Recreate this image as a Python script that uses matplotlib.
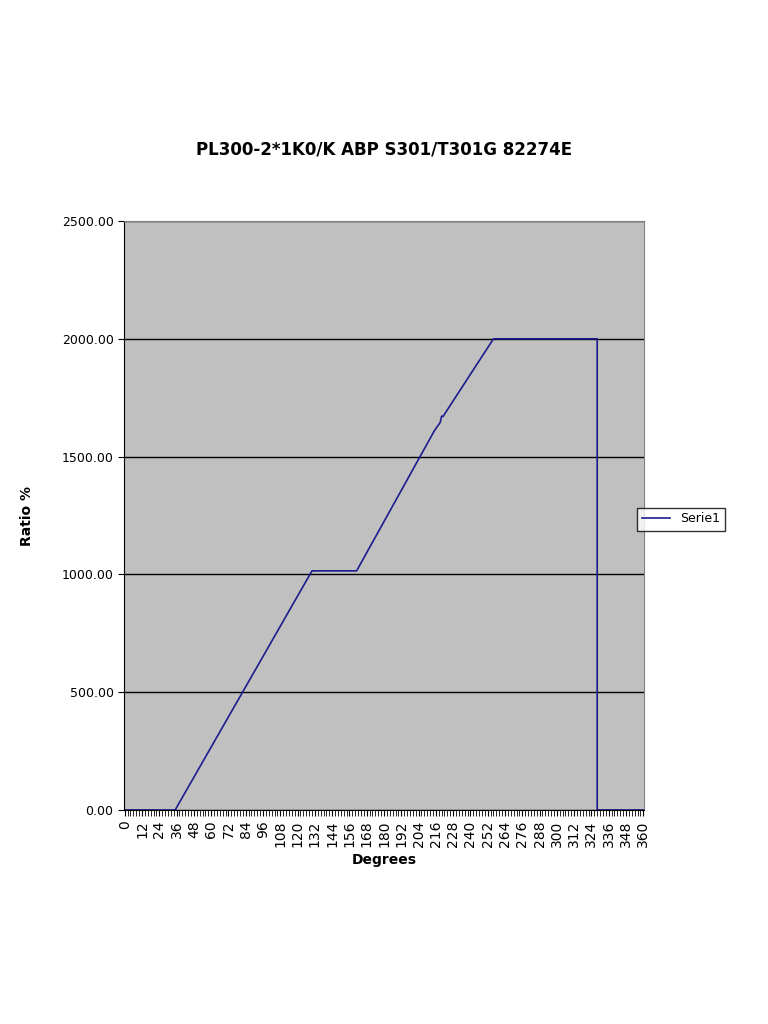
import matplotlib.pyplot as plt
import numpy as np

# breakpoints of Serie1 (degrees, ratio %)
degrees = [0, 35, 130, 161, 215, 219, 220, 221, 222, 256, 262, 328, 328, 360]
ratio = [0, 0, 1015, 1015, 1610, 1645, 1672, 1670, 1680, 2000, 2000, 2000, 0, 0]

y_ticks = [0, 500, 1000, 1500, 2000, 2500]
x_ticks = list(range(0, 361, 12))

fig = plt.figure(figsize=(7.68, 10.24), dpi=100)
ax = fig.add_axes([124 / 768, 1 - 810 / 1024, 520 / 768, 589 / 1024])
ax.set_facecolor('#c0c0c0')

ax.plot(degrees, ratio, color='#1c1c8c', linewidth=1.2, label='Serie1')

ax.set_xlim(-0.5, 360.5)
ax.set_ylim(0, 2500)
ax.set_yticks(y_ticks)
ax.set_yticklabels([f'{v:.2f}' for v in y_ticks], fontsize=9, family='Liberation Sans Narrow')
ax.set_xticks(x_ticks)
ax.set_xticklabels([str(v) for v in x_ticks], rotation=90, fontsize=10)
ax.set_xticks(range(0, 361, 2), minor=True)
ax.tick_params(axis='x', which='both', length=4, direction='out')
ax.tick_params(axis='y', length=4, direction='out')
ax.yaxis.grid(True, color='black', linewidth=1)
ax.set_axisbelow(True)
for s in ax.spines.values():
    s.set_color('#808080')
ax.spines['left'].set_color('black')
ax.spines['bottom'].set_color('black')

ax.set_xlabel('Degrees', fontsize=10, fontweight='bold', family='Liberation Sans Narrow')
ax.set_ylabel('Ratio %', fontsize=10, fontweight='bold', labelpad=20)
ax.set_title('PL300-2*1K0/K ABP S301/T301G 82274E', fontsize=12, fontweight='bold',
             family='Liberation Sans Narrow', pad=48)

fig.legend(loc='center', bbox_to_anchor=(681 / 768, 1 - 519 / 1024), fontsize=9,
           frameon=True, fancybox=False, edgecolor='black', handlelength=2.2,
           prop={'family': 'Liberation Sans Narrow', 'size': 9})

fig.savefig('out.png', dpi=100)
